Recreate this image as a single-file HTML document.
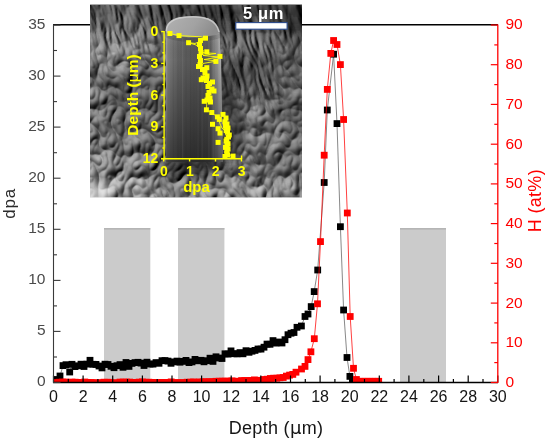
<!DOCTYPE html>
<html><head><meta charset="utf-8"><style>
html,body{margin:0;padding:0;background:#fff;}
svg{display:block;}
.t{font-family:"Liberation Sans",Arial,sans-serif;}
</style></head><body>
<svg width="550" height="441" viewBox="0 0 550 441">
<defs><clipPath id="pc"><rect x="53.5" y="25" width="444.3" height="357.5"/></clipPath></defs>
<rect width="550" height="441" fill="#fff"/>
<rect x="104" y="228" width="46.3" height="154.5" fill="#cbcbcb"/><rect x="104" y="228" width="46.3" height="1.6" fill="#b5b5b5"/><rect x="178" y="228" width="46.4" height="154.5" fill="#cbcbcb"/><rect x="178" y="228" width="46.4" height="1.6" fill="#b5b5b5"/><rect x="400" y="228" width="46.0" height="154.5" fill="#cbcbcb"/><rect x="400" y="228" width="46.0" height="1.6" fill="#b5b5b5"/>
<g clip-path="url(#pc)">
<polyline points="55.5,379.5 60.0,376.0 63.0,365.6 66.0,364.7 69.7,372.0 72.0,364.3 75.0,366.6 78.0,365.8 81.0,364.2 84.0,366.5 87.0,364.1 90.0,360.3 93.0,364.3 96.0,364.4 99.0,366.0 102.0,367.9 105.0,364.2 108.0,364.5 111.0,366.3 114.0,367.7 117.0,365.7 120.0,364.6 123.0,367.3 126.0,362.5 129.0,366.4 132.0,363.4 135.0,362.6 138.0,362.3 141.0,363.1 144.0,365.5 147.0,362.2 150.0,364.0 153.0,364.1 156.0,362.6 159.0,363.3 162.0,360.7 165.0,360.6 168.0,361.1 171.0,363.3 174.0,361.9 177.0,361.1 180.0,362.2 183.0,361.4 186.0,360.4 189.0,362.6 192.0,361.9 195.0,359.4 198.0,360.8 201.0,360.3 204.0,361.8 207.0,360.7 210.0,358.2 213.0,361.4 216.0,356.8 219.0,358.0 222.0,358.5 225.0,353.8 228.0,354.1 231.0,350.9 234.0,353.7 237.0,353.9 240.0,352.6 243.0,353.8 246.0,350.7 249.0,352.3 252.0,351.2 255.0,350.4 258.0,349.0 261.0,349.1 264.0,347.2 267.0,344.1 270.0,344.3 273.0,340.6 276.0,343.1 279.0,342.0 282.0,343.0 285.0,339.7 288.0,334.7 291.0,333.2 294.0,332.5 297.0,327.3 301.4,326.0 305.0,316.5 308.0,314.0 311.2,306.6 314.2,291.6 317.7,270.0 324.2,182.5 327.3,110.0 333.6,54.2 337.0,123.6 340.4,226.7 343.6,310.0 347.0,357.5 349.9,376.4 352.5,381.5" fill="none" stroke="#6a6a6a" stroke-width="0.8"/>
<g fill="#000"><rect x="52.1" y="376.1" width="6.8" height="6.8"/><rect x="56.6" y="372.6" width="6.8" height="6.8"/><rect x="59.6" y="362.2" width="6.8" height="6.8"/><rect x="62.6" y="361.3" width="6.8" height="6.8"/><rect x="66.3" y="368.6" width="6.8" height="6.8"/><rect x="68.6" y="360.9" width="6.8" height="6.8"/><rect x="71.6" y="363.2" width="6.8" height="6.8"/><rect x="74.6" y="362.4" width="6.8" height="6.8"/><rect x="77.6" y="360.8" width="6.8" height="6.8"/><rect x="80.6" y="363.1" width="6.8" height="6.8"/><rect x="83.6" y="360.7" width="6.8" height="6.8"/><rect x="86.6" y="356.9" width="6.8" height="6.8"/><rect x="89.6" y="360.9" width="6.8" height="6.8"/><rect x="92.6" y="361.0" width="6.8" height="6.8"/><rect x="95.6" y="362.6" width="6.8" height="6.8"/><rect x="98.6" y="364.5" width="6.8" height="6.8"/><rect x="101.6" y="360.8" width="6.8" height="6.8"/><rect x="104.6" y="361.1" width="6.8" height="6.8"/><rect x="107.6" y="362.9" width="6.8" height="6.8"/><rect x="110.6" y="364.3" width="6.8" height="6.8"/><rect x="113.6" y="362.3" width="6.8" height="6.8"/><rect x="116.6" y="361.2" width="6.8" height="6.8"/><rect x="119.6" y="363.9" width="6.8" height="6.8"/><rect x="122.6" y="359.1" width="6.8" height="6.8"/><rect x="125.6" y="363.0" width="6.8" height="6.8"/><rect x="128.6" y="360.0" width="6.8" height="6.8"/><rect x="131.6" y="359.2" width="6.8" height="6.8"/><rect x="134.6" y="358.9" width="6.8" height="6.8"/><rect x="137.6" y="359.7" width="6.8" height="6.8"/><rect x="140.6" y="362.1" width="6.8" height="6.8"/><rect x="143.6" y="358.8" width="6.8" height="6.8"/><rect x="146.6" y="360.6" width="6.8" height="6.8"/><rect x="149.6" y="360.7" width="6.8" height="6.8"/><rect x="152.6" y="359.2" width="6.8" height="6.8"/><rect x="155.6" y="359.9" width="6.8" height="6.8"/><rect x="158.6" y="357.3" width="6.8" height="6.8"/><rect x="161.6" y="357.2" width="6.8" height="6.8"/><rect x="164.6" y="357.7" width="6.8" height="6.8"/><rect x="167.6" y="359.9" width="6.8" height="6.8"/><rect x="170.6" y="358.5" width="6.8" height="6.8"/><rect x="173.6" y="357.7" width="6.8" height="6.8"/><rect x="176.6" y="358.8" width="6.8" height="6.8"/><rect x="179.6" y="358.0" width="6.8" height="6.8"/><rect x="182.6" y="357.0" width="6.8" height="6.8"/><rect x="185.6" y="359.2" width="6.8" height="6.8"/><rect x="188.6" y="358.5" width="6.8" height="6.8"/><rect x="191.6" y="356.0" width="6.8" height="6.8"/><rect x="194.6" y="357.4" width="6.8" height="6.8"/><rect x="197.6" y="356.9" width="6.8" height="6.8"/><rect x="200.6" y="358.4" width="6.8" height="6.8"/><rect x="203.6" y="357.3" width="6.8" height="6.8"/><rect x="206.6" y="354.8" width="6.8" height="6.8"/><rect x="209.6" y="358.0" width="6.8" height="6.8"/><rect x="212.6" y="353.4" width="6.8" height="6.8"/><rect x="215.6" y="354.6" width="6.8" height="6.8"/><rect x="218.6" y="355.1" width="6.8" height="6.8"/><rect x="221.6" y="350.4" width="6.8" height="6.8"/><rect x="224.6" y="350.7" width="6.8" height="6.8"/><rect x="227.6" y="347.5" width="6.8" height="6.8"/><rect x="230.6" y="350.3" width="6.8" height="6.8"/><rect x="233.6" y="350.5" width="6.8" height="6.8"/><rect x="236.6" y="349.2" width="6.8" height="6.8"/><rect x="239.6" y="350.4" width="6.8" height="6.8"/><rect x="242.6" y="347.3" width="6.8" height="6.8"/><rect x="245.6" y="348.9" width="6.8" height="6.8"/><rect x="248.6" y="347.8" width="6.8" height="6.8"/><rect x="251.6" y="347.0" width="6.8" height="6.8"/><rect x="254.6" y="345.6" width="6.8" height="6.8"/><rect x="257.6" y="345.7" width="6.8" height="6.8"/><rect x="260.6" y="343.8" width="6.8" height="6.8"/><rect x="263.6" y="340.7" width="6.8" height="6.8"/><rect x="266.6" y="340.9" width="6.8" height="6.8"/><rect x="269.6" y="337.2" width="6.8" height="6.8"/><rect x="272.6" y="339.7" width="6.8" height="6.8"/><rect x="275.6" y="338.6" width="6.8" height="6.8"/><rect x="278.6" y="339.6" width="6.8" height="6.8"/><rect x="281.6" y="336.3" width="6.8" height="6.8"/><rect x="284.6" y="331.3" width="6.8" height="6.8"/><rect x="287.6" y="329.8" width="6.8" height="6.8"/><rect x="290.6" y="329.1" width="6.8" height="6.8"/><rect x="293.6" y="323.9" width="6.8" height="6.8"/><rect x="298.0" y="322.6" width="6.8" height="6.8"/><rect x="301.6" y="313.1" width="6.8" height="6.8"/><rect x="304.6" y="310.6" width="6.8" height="6.8"/><rect x="307.8" y="303.2" width="6.8" height="6.8"/><rect x="310.8" y="288.2" width="6.8" height="6.8"/><rect x="314.3" y="266.6" width="6.8" height="6.8"/><rect x="320.8" y="179.1" width="6.8" height="6.8"/><rect x="323.9" y="106.6" width="6.8" height="6.8"/><rect x="330.2" y="50.8" width="6.8" height="6.8"/><rect x="333.6" y="120.2" width="6.8" height="6.8"/><rect x="337.0" y="223.3" width="6.8" height="6.8"/><rect x="340.2" y="306.6" width="6.8" height="6.8"/><rect x="343.6" y="354.1" width="6.8" height="6.8"/><rect x="346.5" y="373.0" width="6.8" height="6.8"/><rect x="349.1" y="378.1" width="6.8" height="6.8"/></g>
<polyline points="56.0,382.5 59.2,382.2 62.4,382.1 65.6,382.0 68.8,382.7 72.0,382.1 75.2,382.2 78.4,382.4 81.6,382.8 84.8,382.0 88.0,382.4 91.2,382.5 94.4,382.8 97.6,382.8 100.8,382.8 104.0,382.2 107.2,382.3 110.4,382.3 113.6,382.8 116.8,382.9 120.0,382.1 123.2,382.1 126.4,382.1 129.6,382.1 132.8,382.4 136.0,382.5 139.2,382.1 142.4,381.9 145.6,382.3 148.8,382.2 152.0,382.4 155.2,382.8 158.4,382.5 161.6,382.4 164.8,382.5 168.0,382.5 171.2,381.9 174.4,382.7 177.6,382.6 180.8,382.7 184.0,382.6 187.2,382.2 190.4,382.2 193.6,381.9 196.8,382.4 200.0,381.9 203.2,381.8 206.4,381.8 209.6,381.7 212.8,381.7 216.0,381.3 219.2,381.2 222.4,381.2 225.6,381.1 228.8,381.2 232.0,380.8 235.2,381.5 238.4,381.2 241.6,380.6 244.8,380.6 248.0,380.6 251.2,380.5 254.4,379.9 257.6,380.4 260.8,380.3 264.0,379.5 267.2,379.2 270.4,378.5 273.6,378.2 276.8,378.2 280.0,377.8 283.2,377.5 286.4,376.1 289.6,375.1 292.8,374.4 296.0,372.2 301.5,369.0 305.0,366.4 308.0,359.6 310.9,351.8 314.3,338.7 317.5,303.8 320.5,241.6 324.2,155.2 327.3,89.4 330.8,53.4 333.6,40.5 337.0,44.5 340.4,64.6 343.6,119.5 347.3,213.0 350.2,316.5 353.5,368.3 356.4,379.5 359.5,381.3 362.7,381.3 365.9,381.3 369.1,381.3 372.3,381.3 375.5,381.3 378.7,381.3" fill="none" stroke="#f00" stroke-width="0.75"/>
<g fill="#f00"><rect x="52.6" y="379.1" width="6.8" height="6.8"/><rect x="55.8" y="378.8" width="6.8" height="6.8"/><rect x="59.0" y="378.7" width="6.8" height="6.8"/><rect x="62.2" y="378.6" width="6.8" height="6.8"/><rect x="65.4" y="379.3" width="6.8" height="6.8"/><rect x="68.6" y="378.7" width="6.8" height="6.8"/><rect x="71.8" y="378.8" width="6.8" height="6.8"/><rect x="75.0" y="379.0" width="6.8" height="6.8"/><rect x="78.2" y="379.4" width="6.8" height="6.8"/><rect x="81.4" y="378.6" width="6.8" height="6.8"/><rect x="84.6" y="379.0" width="6.8" height="6.8"/><rect x="87.8" y="379.1" width="6.8" height="6.8"/><rect x="91.0" y="379.4" width="6.8" height="6.8"/><rect x="94.2" y="379.4" width="6.8" height="6.8"/><rect x="97.4" y="379.4" width="6.8" height="6.8"/><rect x="100.6" y="378.8" width="6.8" height="6.8"/><rect x="103.8" y="378.9" width="6.8" height="6.8"/><rect x="107.0" y="378.9" width="6.8" height="6.8"/><rect x="110.2" y="379.4" width="6.8" height="6.8"/><rect x="113.4" y="379.5" width="6.8" height="6.8"/><rect x="116.6" y="378.7" width="6.8" height="6.8"/><rect x="119.8" y="378.7" width="6.8" height="6.8"/><rect x="123.0" y="378.7" width="6.8" height="6.8"/><rect x="126.2" y="378.7" width="6.8" height="6.8"/><rect x="129.4" y="379.0" width="6.8" height="6.8"/><rect x="132.6" y="379.1" width="6.8" height="6.8"/><rect x="135.8" y="378.7" width="6.8" height="6.8"/><rect x="139.0" y="378.5" width="6.8" height="6.8"/><rect x="142.2" y="378.9" width="6.8" height="6.8"/><rect x="145.4" y="378.8" width="6.8" height="6.8"/><rect x="148.6" y="379.0" width="6.8" height="6.8"/><rect x="151.8" y="379.4" width="6.8" height="6.8"/><rect x="155.0" y="379.1" width="6.8" height="6.8"/><rect x="158.2" y="379.0" width="6.8" height="6.8"/><rect x="161.4" y="379.1" width="6.8" height="6.8"/><rect x="164.6" y="379.1" width="6.8" height="6.8"/><rect x="167.8" y="378.5" width="6.8" height="6.8"/><rect x="171.0" y="379.3" width="6.8" height="6.8"/><rect x="174.2" y="379.2" width="6.8" height="6.8"/><rect x="177.4" y="379.3" width="6.8" height="6.8"/><rect x="180.6" y="379.2" width="6.8" height="6.8"/><rect x="183.8" y="378.8" width="6.8" height="6.8"/><rect x="187.0" y="378.8" width="6.8" height="6.8"/><rect x="190.2" y="378.5" width="6.8" height="6.8"/><rect x="193.4" y="379.0" width="6.8" height="6.8"/><rect x="196.6" y="378.5" width="6.8" height="6.8"/><rect x="199.8" y="378.4" width="6.8" height="6.8"/><rect x="203.0" y="378.4" width="6.8" height="6.8"/><rect x="206.2" y="378.3" width="6.8" height="6.8"/><rect x="209.4" y="378.3" width="6.8" height="6.8"/><rect x="212.6" y="377.9" width="6.8" height="6.8"/><rect x="215.8" y="377.8" width="6.8" height="6.8"/><rect x="219.0" y="377.8" width="6.8" height="6.8"/><rect x="222.2" y="377.7" width="6.8" height="6.8"/><rect x="225.4" y="377.8" width="6.8" height="6.8"/><rect x="228.6" y="377.4" width="6.8" height="6.8"/><rect x="231.8" y="378.1" width="6.8" height="6.8"/><rect x="235.0" y="377.8" width="6.8" height="6.8"/><rect x="238.2" y="377.2" width="6.8" height="6.8"/><rect x="241.4" y="377.2" width="6.8" height="6.8"/><rect x="244.6" y="377.2" width="6.8" height="6.8"/><rect x="247.8" y="377.1" width="6.8" height="6.8"/><rect x="251.0" y="376.5" width="6.8" height="6.8"/><rect x="254.2" y="377.0" width="6.8" height="6.8"/><rect x="257.4" y="376.9" width="6.8" height="6.8"/><rect x="260.6" y="376.1" width="6.8" height="6.8"/><rect x="263.8" y="375.8" width="6.8" height="6.8"/><rect x="267.0" y="375.1" width="6.8" height="6.8"/><rect x="270.2" y="374.8" width="6.8" height="6.8"/><rect x="273.4" y="374.8" width="6.8" height="6.8"/><rect x="276.6" y="374.4" width="6.8" height="6.8"/><rect x="279.8" y="374.1" width="6.8" height="6.8"/><rect x="283.0" y="372.7" width="6.8" height="6.8"/><rect x="286.2" y="371.7" width="6.8" height="6.8"/><rect x="289.4" y="371.0" width="6.8" height="6.8"/><rect x="292.6" y="368.8" width="6.8" height="6.8"/><rect x="298.1" y="365.6" width="6.8" height="6.8"/><rect x="301.6" y="363.0" width="6.8" height="6.8"/><rect x="304.6" y="356.2" width="6.8" height="6.8"/><rect x="307.5" y="348.4" width="6.8" height="6.8"/><rect x="310.9" y="335.3" width="6.8" height="6.8"/><rect x="314.1" y="300.4" width="6.8" height="6.8"/><rect x="317.1" y="238.2" width="6.8" height="6.8"/><rect x="320.8" y="151.8" width="6.8" height="6.8"/><rect x="323.9" y="86.0" width="6.8" height="6.8"/><rect x="327.4" y="50.0" width="6.8" height="6.8"/><rect x="330.2" y="37.1" width="6.8" height="6.8"/><rect x="333.6" y="41.1" width="6.8" height="6.8"/><rect x="337.0" y="61.2" width="6.8" height="6.8"/><rect x="340.2" y="116.1" width="6.8" height="6.8"/><rect x="343.9" y="209.6" width="6.8" height="6.8"/><rect x="346.8" y="313.1" width="6.8" height="6.8"/><rect x="350.1" y="364.9" width="6.8" height="6.8"/><rect x="353.0" y="376.1" width="6.8" height="6.8"/><rect x="356.1" y="377.9" width="6.8" height="6.8"/><rect x="359.3" y="377.9" width="6.8" height="6.8"/><rect x="362.5" y="377.9" width="6.8" height="6.8"/><rect x="365.7" y="377.9" width="6.8" height="6.8"/><rect x="368.9" y="377.9" width="6.8" height="6.8"/><rect x="372.1" y="377.9" width="6.8" height="6.8"/><rect x="375.3" y="377.9" width="6.8" height="6.8"/></g>
</g>
<line x1="53" x2="498" y1="24.75" y2="24.75" stroke="#000" stroke-width="1.5"/>
<line x1="53" x2="498" y1="382.5" y2="382.5" stroke="#000" stroke-width="1.3"/>
<g stroke="#000" stroke-width="1.2"><line x1="53.5" x2="53.5" y1="382.5" y2="375.5"/><line x1="68.3" x2="68.3" y1="382.5" y2="379.0"/><line x1="83.1" x2="83.1" y1="382.5" y2="375.5"/><line x1="97.9" x2="97.9" y1="382.5" y2="379.0"/><line x1="112.7" x2="112.7" y1="382.5" y2="375.5"/><line x1="127.5" x2="127.5" y1="382.5" y2="379.0"/><line x1="142.4" x2="142.4" y1="382.5" y2="375.5"/><line x1="157.2" x2="157.2" y1="382.5" y2="379.0"/><line x1="172.0" x2="172.0" y1="382.5" y2="375.5"/><line x1="186.8" x2="186.8" y1="382.5" y2="379.0"/><line x1="201.6" x2="201.6" y1="382.5" y2="375.5"/><line x1="216.4" x2="216.4" y1="382.5" y2="379.0"/><line x1="231.2" x2="231.2" y1="382.5" y2="375.5"/><line x1="246.0" x2="246.0" y1="382.5" y2="379.0"/><line x1="260.8" x2="260.8" y1="382.5" y2="375.5"/><line x1="275.6" x2="275.6" y1="382.5" y2="379.0"/><line x1="290.5" x2="290.5" y1="382.5" y2="375.5"/><line x1="305.3" x2="305.3" y1="382.5" y2="379.0"/><line x1="320.1" x2="320.1" y1="382.5" y2="375.5"/><line x1="334.9" x2="334.9" y1="382.5" y2="379.0"/><line x1="349.7" x2="349.7" y1="382.5" y2="375.5"/><line x1="364.5" x2="364.5" y1="382.5" y2="379.0"/><line x1="379.3" x2="379.3" y1="382.5" y2="375.5"/><line x1="394.1" x2="394.1" y1="382.5" y2="379.0"/><line x1="408.9" x2="408.9" y1="382.5" y2="375.5"/><line x1="423.8" x2="423.8" y1="382.5" y2="379.0"/><line x1="438.6" x2="438.6" y1="382.5" y2="375.5"/><line x1="453.4" x2="453.4" y1="382.5" y2="379.0"/><line x1="468.2" x2="468.2" y1="382.5" y2="375.5"/><line x1="483.0" x2="483.0" y1="382.5" y2="379.0"/><line x1="497.8" x2="497.8" y1="382.5" y2="375.5"/></g>
<g stroke="#3a3a3a" stroke-width="1.1"><line x1="53.5" x2="60.5" y1="382.5" y2="382.5"/><line x1="53.5" x2="60.5" y1="331.4" y2="331.4"/><line x1="53.5" x2="60.5" y1="280.4" y2="280.4"/><line x1="53.5" x2="60.5" y1="229.3" y2="229.3"/><line x1="53.5" x2="60.5" y1="178.2" y2="178.2"/><line x1="53.5" x2="60.5" y1="127.1" y2="127.1"/><line x1="53.5" x2="60.5" y1="76.1" y2="76.1"/><line x1="53.5" x2="60.5" y1="25.0" y2="25.0"/><line x1="53.5" x2="57" y1="357.0" y2="357.0"/><line x1="53.5" x2="57" y1="305.9" y2="305.9"/><line x1="53.5" x2="57" y1="254.8" y2="254.8"/><line x1="53.5" x2="57" y1="203.8" y2="203.8"/><line x1="53.5" x2="57" y1="152.7" y2="152.7"/><line x1="53.5" x2="57" y1="101.6" y2="101.6"/><line x1="53.5" x2="57" y1="50.5" y2="50.5"/></g>
<line x1="53.5" x2="53.5" y1="24.5" y2="383" stroke="#3a3a3a" stroke-width="1.1"/>
<g stroke="#f00" stroke-width="1.2"><line x1="497.8" x2="490.8" y1="382.5" y2="382.5"/><line x1="497.8" x2="494.3" y1="362.6" y2="362.6"/><line x1="497.8" x2="490.8" y1="342.8" y2="342.8"/><line x1="497.8" x2="494.3" y1="322.9" y2="322.9"/><line x1="497.8" x2="490.8" y1="303.1" y2="303.1"/><line x1="497.8" x2="494.3" y1="283.2" y2="283.2"/><line x1="497.8" x2="490.8" y1="263.3" y2="263.3"/><line x1="497.8" x2="494.3" y1="243.5" y2="243.5"/><line x1="497.8" x2="490.8" y1="223.6" y2="223.6"/><line x1="497.8" x2="494.3" y1="203.8" y2="203.8"/><line x1="497.8" x2="490.8" y1="183.9" y2="183.9"/><line x1="497.8" x2="494.3" y1="164.0" y2="164.0"/><line x1="497.8" x2="490.8" y1="144.2" y2="144.2"/><line x1="497.8" x2="494.3" y1="124.3" y2="124.3"/><line x1="497.8" x2="490.8" y1="104.4" y2="104.4"/><line x1="497.8" x2="494.3" y1="84.6" y2="84.6"/><line x1="497.8" x2="490.8" y1="64.7" y2="64.7"/><line x1="497.8" x2="494.3" y1="44.9" y2="44.9"/><line x1="497.8" x2="490.8" y1="25.0" y2="25.0"/></g>
<line x1="497.8" x2="497.8" y1="24.4" y2="383" stroke="#f00" stroke-width="1.3"/>
<g class="t" font-size="15.5" fill="#4a4a4a" text-anchor="end"><text x="45.5" y="386.3">0</text><text x="45.5" y="335.2">5</text><text x="45.5" y="284.2">10</text><text x="45.5" y="233.1">15</text><text x="45.5" y="182.0">20</text><text x="45.5" y="130.9">25</text><text x="45.5" y="79.9">30</text><text x="45.5" y="28.8">35</text></g>
<g class="t" font-size="16" fill="#151515" text-anchor="middle"><text x="53.5" y="402">0</text><text x="83.1" y="402">2</text><text x="112.7" y="402">4</text><text x="142.4" y="402">6</text><text x="172.0" y="402">8</text><text x="201.6" y="402">10</text><text x="231.2" y="402">12</text><text x="260.8" y="402">14</text><text x="290.5" y="402">16</text><text x="320.1" y="402">18</text><text x="349.7" y="402">20</text><text x="379.3" y="402">22</text><text x="408.9" y="402">24</text><text x="438.6" y="402">26</text><text x="468.2" y="402">28</text><text x="497.8" y="402">30</text></g>
<g class="t" font-size="15.5" fill="#f00"><text x="505.5" y="386.9">0</text><text x="505.5" y="347.2">10</text><text x="505.5" y="307.5">20</text><text x="505.5" y="267.7">30</text><text x="505.5" y="228.0">40</text><text x="505.5" y="188.3">50</text><text x="505.5" y="148.6">60</text><text x="505.5" y="108.8">70</text><text x="505.5" y="69.1">80</text><text x="505.5" y="29.4">90</text></g>
<text class="t" font-size="17" fill="#2a2a2a" letter-spacing="0.7" transform="translate(15,203.4) rotate(-90)" text-anchor="middle">dpa</text>
<text class="t" font-size="18" fill="#f00" letter-spacing="0.3" transform="translate(541,200.6) rotate(-90)" text-anchor="middle">H (at%)</text>
<text class="t" font-size="18" fill="#151515" letter-spacing="0.3" x="276" y="433.5" text-anchor="middle">Depth (<tspan font-family="'DejaVu Sans','Liberation Sans',sans-serif">μ</tspan>m)</text>
<defs>
<clipPath id="ic"><rect x="90" y="4.5" width="212" height="193.0"/></clipPath>
<filter id="gb" x="-10%" y="-10%" width="120%" height="120%"><feGaussianBlur stdDeviation="6"/></filter>
<filter id="txA" x="0" y="0" width="100%" height="100%" color-interpolation-filters="sRGB"><feTurbulence type="turbulence" baseFrequency="0.1 0.03" numOctaves="2" seed="9" result="n"/><feDiffuseLighting in="n" surfaceScale="3.5" diffuseConstant="1" lighting-color="#fff"><feDistantLight azimuth="225" elevation="45"/></feDiffuseLighting><feComponentTransfer><feFuncR type="linear" slope="0.95" intercept="-0.144"/><feFuncG type="linear" slope="0.95" intercept="-0.144"/><feFuncB type="linear" slope="0.95" intercept="-0.144"/></feComponentTransfer></filter>
<filter id="txB" x="0" y="0" width="100%" height="100%" color-interpolation-filters="sRGB"><feTurbulence type="turbulence" baseFrequency="0.06 0.045" numOctaves="2" seed="5" result="n"/><feDiffuseLighting in="n" surfaceScale="3" diffuseConstant="1" lighting-color="#fff"><feDistantLight azimuth="240" elevation="45"/></feDiffuseLighting><feComponentTransfer><feFuncR type="linear" slope="1.0" intercept="-0.173"/><feFuncG type="linear" slope="1.0" intercept="-0.173"/><feFuncB type="linear" slope="1.0" intercept="-0.173"/></feComponentTransfer></filter>
<filter id="txC" x="0" y="0" width="100%" height="100%" color-interpolation-filters="sRGB"><feTurbulence type="turbulence" baseFrequency="0.06 0.045" numOctaves="2" seed="5" result="n"/><feDiffuseLighting in="n" surfaceScale="3.5" diffuseConstant="1" lighting-color="#fff"><feDistantLight azimuth="240" elevation="45"/></feDiffuseLighting><feComponentTransfer><feFuncR type="linear" slope="0.95" intercept="-0.139"/><feFuncG type="linear" slope="0.95" intercept="-0.139"/><feFuncB type="linear" slope="0.95" intercept="-0.139"/></feComponentTransfer></filter>
<filter id="mb" x="-20%" y="-20%" width="140%" height="140%"><feGaussianBlur stdDeviation="10"/></filter>
<mask id="mA" maskUnits="userSpaceOnUse" x="90" y="4.5" width="212" height="193.0"><g filter="url(#mb)"><rect x="80" y="-10" width="240" height="55" fill="#fff"/><rect x="222" y="40" width="55" height="60" fill="#fff"/></g></mask>
<mask id="mB" maskUnits="userSpaceOnUse" x="90" y="4.5" width="212" height="193.0"><g filter="url(#mb)"><rect x="245" y="95" width="80" height="75" fill="#fff"/><rect x="280" y="50" width="40" height="45" fill="#fff"/></g></mask>
<mask id="mC" maskUnits="userSpaceOnUse" x="90" y="4.5" width="212" height="193.0"><rect x="90" y="4.5" width="212" height="193.0" fill="#fff"/><g filter="url(#mb)"><rect x="80" y="-10" width="240" height="55" fill="#000"/><rect x="222" y="40" width="55" height="60" fill="#000"/><rect x="245" y="95" width="80" height="75" fill="#000"/><rect x="280" y="50" width="40" height="45" fill="#000"/></g></mask>
<linearGradient id="pbody" x1="0" x2="1" y1="0" y2="0"><stop offset="0" stop-color="#a0a0a0"/><stop offset="0.04" stop-color="#7a7a7a"/><stop offset="0.25" stop-color="#5e5e5e"/><stop offset="0.6" stop-color="#525252"/><stop offset="0.78" stop-color="#5a5a5a"/><stop offset="0.87" stop-color="#858585"/><stop offset="0.94" stop-color="#a4a4a4"/><stop offset="1" stop-color="#b4b4b4"/></linearGradient>
<linearGradient id="pshade" x1="0" x2="0" y1="0" y2="1"><stop offset="0" stop-color="#fff" stop-opacity="0.25"/><stop offset="0.15" stop-color="#fff" stop-opacity="0.06"/><stop offset="0.3" stop-color="#000" stop-opacity="0"/><stop offset="1" stop-color="#000" stop-opacity="0.5"/></linearGradient>
<radialGradient id="pcap" cx="0.35" cy="0.35" r="0.75"><stop offset="0" stop-color="#b8b8b8"/><stop offset="0.7" stop-color="#a4a4a4"/><stop offset="1" stop-color="#a4a4a4" stop-opacity="0"/></radialGradient>
</defs>
<g clip-path="url(#ic)" style="isolation:isolate">
<rect x="90" y="4.5" width="212" height="193.0" fill="#6e6e6e"/>
<g filter="url(#gb)">
<rect x="82.0" y="-3.5" width="26.3" height="24.7" fill="rgb(75,75,75)"/>
<rect x="107.7" y="-3.5" width="18.3" height="24.7" fill="rgb(85,85,85)"/>
<rect x="125.3" y="-3.5" width="18.3" height="24.7" fill="rgb(90,90,90)"/>
<rect x="143.0" y="-3.5" width="18.3" height="24.7" fill="rgb(80,80,80)"/>
<rect x="160.7" y="-3.5" width="18.3" height="24.7" fill="rgb(65,65,65)"/>
<rect x="178.3" y="-3.5" width="18.3" height="24.7" fill="rgb(60,60,60)"/>
<rect x="196.0" y="-3.5" width="18.3" height="24.7" fill="rgb(50,50,50)"/>
<rect x="213.7" y="-3.5" width="18.3" height="24.7" fill="rgb(48,48,48)"/>
<rect x="231.3" y="-3.5" width="18.3" height="24.7" fill="rgb(60,60,60)"/>
<rect x="249.0" y="-3.5" width="18.3" height="24.7" fill="rgb(60,60,60)"/>
<rect x="266.7" y="-3.5" width="18.3" height="24.7" fill="rgb(55,55,55)"/>
<rect x="284.3" y="-3.5" width="26.3" height="24.7" fill="rgb(42,42,42)"/>
<rect x="82.0" y="20.6" width="26.3" height="16.7" fill="rgb(100,100,100)"/>
<rect x="107.7" y="20.6" width="18.3" height="16.7" fill="rgb(105,105,105)"/>
<rect x="125.3" y="20.6" width="18.3" height="16.7" fill="rgb(110,110,110)"/>
<rect x="143.0" y="20.6" width="18.3" height="16.7" fill="rgb(95,95,95)"/>
<rect x="160.7" y="20.6" width="18.3" height="16.7" fill="rgb(85,85,85)"/>
<rect x="178.3" y="20.6" width="18.3" height="16.7" fill="rgb(80,80,80)"/>
<rect x="196.0" y="20.6" width="18.3" height="16.7" fill="rgb(65,65,65)"/>
<rect x="213.7" y="20.6" width="18.3" height="16.7" fill="rgb(65,65,65)"/>
<rect x="231.3" y="20.6" width="18.3" height="16.7" fill="rgb(72,72,72)"/>
<rect x="249.0" y="20.6" width="18.3" height="16.7" fill="rgb(78,78,78)"/>
<rect x="266.7" y="20.6" width="18.3" height="16.7" fill="rgb(72,72,72)"/>
<rect x="284.3" y="20.6" width="26.3" height="16.7" fill="rgb(50,50,50)"/>
<rect x="82.0" y="36.7" width="26.3" height="16.7" fill="rgb(130,130,130)"/>
<rect x="107.7" y="36.7" width="18.3" height="16.7" fill="rgb(135,135,135)"/>
<rect x="125.3" y="36.7" width="18.3" height="16.7" fill="rgb(125,125,125)"/>
<rect x="143.0" y="36.7" width="18.3" height="16.7" fill="rgb(108,108,108)"/>
<rect x="160.7" y="36.7" width="18.3" height="16.7" fill="rgb(100,100,100)"/>
<rect x="178.3" y="36.7" width="18.3" height="16.7" fill="rgb(100,100,100)"/>
<rect x="196.0" y="36.7" width="18.3" height="16.7" fill="rgb(100,100,100)"/>
<rect x="213.7" y="36.7" width="18.3" height="16.7" fill="rgb(100,100,100)"/>
<rect x="231.3" y="36.7" width="18.3" height="16.7" fill="rgb(105,105,105)"/>
<rect x="249.0" y="36.7" width="18.3" height="16.7" fill="rgb(110,110,110)"/>
<rect x="266.7" y="36.7" width="18.3" height="16.7" fill="rgb(105,105,105)"/>
<rect x="284.3" y="36.7" width="26.3" height="16.7" fill="rgb(85,85,85)"/>
<rect x="82.0" y="52.8" width="26.3" height="16.7" fill="rgb(118,118,118)"/>
<rect x="107.7" y="52.8" width="18.3" height="16.7" fill="rgb(120,120,120)"/>
<rect x="125.3" y="52.8" width="18.3" height="16.7" fill="rgb(108,108,108)"/>
<rect x="143.0" y="52.8" width="18.3" height="16.7" fill="rgb(98,98,98)"/>
<rect x="160.7" y="52.8" width="18.3" height="16.7" fill="rgb(100,100,100)"/>
<rect x="178.3" y="52.8" width="18.3" height="16.7" fill="rgb(100,100,100)"/>
<rect x="196.0" y="52.8" width="18.3" height="16.7" fill="rgb(100,100,100)"/>
<rect x="213.7" y="52.8" width="18.3" height="16.7" fill="rgb(80,80,80)"/>
<rect x="231.3" y="52.8" width="18.3" height="16.7" fill="rgb(70,70,70)"/>
<rect x="249.0" y="52.8" width="18.3" height="16.7" fill="rgb(80,80,80)"/>
<rect x="266.7" y="52.8" width="18.3" height="16.7" fill="rgb(85,85,85)"/>
<rect x="284.3" y="52.8" width="26.3" height="16.7" fill="rgb(80,80,80)"/>
<rect x="82.0" y="68.8" width="26.3" height="16.7" fill="rgb(100,100,100)"/>
<rect x="107.7" y="68.8" width="18.3" height="16.7" fill="rgb(88,88,88)"/>
<rect x="125.3" y="68.8" width="18.3" height="16.7" fill="rgb(95,95,95)"/>
<rect x="143.0" y="68.8" width="18.3" height="16.7" fill="rgb(85,85,85)"/>
<rect x="160.7" y="68.8" width="18.3" height="16.7" fill="rgb(95,95,95)"/>
<rect x="178.3" y="68.8" width="18.3" height="16.7" fill="rgb(95,95,95)"/>
<rect x="196.0" y="68.8" width="18.3" height="16.7" fill="rgb(95,95,95)"/>
<rect x="213.7" y="68.8" width="18.3" height="16.7" fill="rgb(75,75,75)"/>
<rect x="231.3" y="68.8" width="18.3" height="16.7" fill="rgb(65,65,65)"/>
<rect x="249.0" y="68.8" width="18.3" height="16.7" fill="rgb(75,75,75)"/>
<rect x="266.7" y="68.8" width="18.3" height="16.7" fill="rgb(85,85,85)"/>
<rect x="284.3" y="68.8" width="26.3" height="16.7" fill="rgb(90,90,90)"/>
<rect x="82.0" y="84.9" width="26.3" height="16.7" fill="rgb(105,105,105)"/>
<rect x="107.7" y="84.9" width="18.3" height="16.7" fill="rgb(85,85,85)"/>
<rect x="125.3" y="84.9" width="18.3" height="16.7" fill="rgb(95,95,95)"/>
<rect x="143.0" y="84.9" width="18.3" height="16.7" fill="rgb(82,82,82)"/>
<rect x="160.7" y="84.9" width="18.3" height="16.7" fill="rgb(90,90,90)"/>
<rect x="178.3" y="84.9" width="18.3" height="16.7" fill="rgb(90,90,90)"/>
<rect x="196.0" y="84.9" width="18.3" height="16.7" fill="rgb(90,90,90)"/>
<rect x="213.7" y="84.9" width="18.3" height="16.7" fill="rgb(95,95,95)"/>
<rect x="231.3" y="84.9" width="18.3" height="16.7" fill="rgb(90,90,90)"/>
<rect x="249.0" y="84.9" width="18.3" height="16.7" fill="rgb(85,85,85)"/>
<rect x="266.7" y="84.9" width="18.3" height="16.7" fill="rgb(95,95,95)"/>
<rect x="284.3" y="84.9" width="26.3" height="16.7" fill="rgb(100,100,100)"/>
<rect x="82.0" y="101.0" width="26.3" height="16.7" fill="rgb(105,105,105)"/>
<rect x="107.7" y="101.0" width="18.3" height="16.7" fill="rgb(85,85,85)"/>
<rect x="125.3" y="101.0" width="18.3" height="16.7" fill="rgb(90,90,90)"/>
<rect x="143.0" y="101.0" width="18.3" height="16.7" fill="rgb(85,85,85)"/>
<rect x="160.7" y="101.0" width="18.3" height="16.7" fill="rgb(90,90,90)"/>
<rect x="178.3" y="101.0" width="18.3" height="16.7" fill="rgb(90,90,90)"/>
<rect x="196.0" y="101.0" width="18.3" height="16.7" fill="rgb(90,90,90)"/>
<rect x="213.7" y="101.0" width="18.3" height="16.7" fill="rgb(95,95,95)"/>
<rect x="231.3" y="101.0" width="18.3" height="16.7" fill="rgb(90,90,90)"/>
<rect x="249.0" y="101.0" width="18.3" height="16.7" fill="rgb(110,110,110)"/>
<rect x="266.7" y="101.0" width="18.3" height="16.7" fill="rgb(95,95,95)"/>
<rect x="284.3" y="101.0" width="26.3" height="16.7" fill="rgb(75,75,75)"/>
<rect x="82.0" y="117.1" width="26.3" height="16.7" fill="rgb(110,110,110)"/>
<rect x="107.7" y="117.1" width="18.3" height="16.7" fill="rgb(100,100,100)"/>
<rect x="125.3" y="117.1" width="18.3" height="16.7" fill="rgb(100,100,100)"/>
<rect x="143.0" y="117.1" width="18.3" height="16.7" fill="rgb(95,95,95)"/>
<rect x="160.7" y="117.1" width="18.3" height="16.7" fill="rgb(95,95,95)"/>
<rect x="178.3" y="117.1" width="18.3" height="16.7" fill="rgb(95,95,95)"/>
<rect x="196.0" y="117.1" width="18.3" height="16.7" fill="rgb(95,95,95)"/>
<rect x="213.7" y="117.1" width="18.3" height="16.7" fill="rgb(105,105,105)"/>
<rect x="231.3" y="117.1" width="18.3" height="16.7" fill="rgb(95,95,95)"/>
<rect x="249.0" y="117.1" width="18.3" height="16.7" fill="rgb(115,115,115)"/>
<rect x="266.7" y="117.1" width="18.3" height="16.7" fill="rgb(110,110,110)"/>
<rect x="284.3" y="117.1" width="26.3" height="16.7" fill="rgb(90,90,90)"/>
<rect x="82.0" y="133.2" width="26.3" height="16.7" fill="rgb(105,105,105)"/>
<rect x="107.7" y="133.2" width="18.3" height="16.7" fill="rgb(100,100,100)"/>
<rect x="125.3" y="133.2" width="18.3" height="16.7" fill="rgb(110,110,110)"/>
<rect x="143.0" y="133.2" width="18.3" height="16.7" fill="rgb(105,105,105)"/>
<rect x="160.7" y="133.2" width="18.3" height="16.7" fill="rgb(100,100,100)"/>
<rect x="178.3" y="133.2" width="18.3" height="16.7" fill="rgb(100,100,100)"/>
<rect x="196.0" y="133.2" width="18.3" height="16.7" fill="rgb(100,100,100)"/>
<rect x="213.7" y="133.2" width="18.3" height="16.7" fill="rgb(100,100,100)"/>
<rect x="231.3" y="133.2" width="18.3" height="16.7" fill="rgb(105,105,105)"/>
<rect x="249.0" y="133.2" width="18.3" height="16.7" fill="rgb(110,110,110)"/>
<rect x="266.7" y="133.2" width="18.3" height="16.7" fill="rgb(105,105,105)"/>
<rect x="284.3" y="133.2" width="26.3" height="16.7" fill="rgb(100,100,100)"/>
<rect x="82.0" y="149.2" width="26.3" height="16.7" fill="rgb(120,120,120)"/>
<rect x="107.7" y="149.2" width="18.3" height="16.7" fill="rgb(110,110,110)"/>
<rect x="125.3" y="149.2" width="18.3" height="16.7" fill="rgb(110,110,110)"/>
<rect x="143.0" y="149.2" width="18.3" height="16.7" fill="rgb(110,110,110)"/>
<rect x="160.7" y="149.2" width="18.3" height="16.7" fill="rgb(80,80,80)"/>
<rect x="178.3" y="149.2" width="18.3" height="16.7" fill="rgb(70,70,70)"/>
<rect x="196.0" y="149.2" width="18.3" height="16.7" fill="rgb(70,70,70)"/>
<rect x="213.7" y="149.2" width="18.3" height="16.7" fill="rgb(90,90,90)"/>
<rect x="231.3" y="149.2" width="18.3" height="16.7" fill="rgb(110,110,110)"/>
<rect x="249.0" y="149.2" width="18.3" height="16.7" fill="rgb(95,95,95)"/>
<rect x="266.7" y="149.2" width="18.3" height="16.7" fill="rgb(100,100,100)"/>
<rect x="284.3" y="149.2" width="26.3" height="16.7" fill="rgb(95,95,95)"/>
<rect x="82.0" y="165.3" width="26.3" height="16.7" fill="rgb(130,130,130)"/>
<rect x="107.7" y="165.3" width="18.3" height="16.7" fill="rgb(125,125,125)"/>
<rect x="125.3" y="165.3" width="18.3" height="16.7" fill="rgb(120,120,120)"/>
<rect x="143.0" y="165.3" width="18.3" height="16.7" fill="rgb(105,105,105)"/>
<rect x="160.7" y="165.3" width="18.3" height="16.7" fill="rgb(85,85,85)"/>
<rect x="178.3" y="165.3" width="18.3" height="16.7" fill="rgb(80,80,80)"/>
<rect x="196.0" y="165.3" width="18.3" height="16.7" fill="rgb(85,85,85)"/>
<rect x="213.7" y="165.3" width="18.3" height="16.7" fill="rgb(105,105,105)"/>
<rect x="231.3" y="165.3" width="18.3" height="16.7" fill="rgb(105,105,105)"/>
<rect x="249.0" y="165.3" width="18.3" height="16.7" fill="rgb(100,100,100)"/>
<rect x="266.7" y="165.3" width="18.3" height="16.7" fill="rgb(95,95,95)"/>
<rect x="284.3" y="165.3" width="26.3" height="16.7" fill="rgb(95,95,95)"/>
<rect x="82.0" y="181.4" width="26.3" height="24.7" fill="rgb(170,170,170)"/>
<rect x="107.7" y="181.4" width="18.3" height="24.7" fill="rgb(140,140,140)"/>
<rect x="125.3" y="181.4" width="18.3" height="24.7" fill="rgb(140,140,140)"/>
<rect x="143.0" y="181.4" width="18.3" height="24.7" fill="rgb(130,130,130)"/>
<rect x="160.7" y="181.4" width="18.3" height="24.7" fill="rgb(120,120,120)"/>
<rect x="178.3" y="181.4" width="18.3" height="24.7" fill="rgb(120,120,120)"/>
<rect x="196.0" y="181.4" width="18.3" height="24.7" fill="rgb(125,125,125)"/>
<rect x="213.7" y="181.4" width="18.3" height="24.7" fill="rgb(125,125,125)"/>
<rect x="231.3" y="181.4" width="18.3" height="24.7" fill="rgb(130,130,130)"/>
<rect x="249.0" y="181.4" width="18.3" height="24.7" fill="rgb(125,125,125)"/>
<rect x="266.7" y="181.4" width="18.3" height="24.7" fill="rgb(130,130,130)"/>
<rect x="284.3" y="181.4" width="26.3" height="24.7" fill="rgb(125,125,125)"/>
</g>
<filter id="b3" x="-30%" y="-60%" width="160%" height="220%"><feGaussianBlur stdDeviation="3"/></filter>
<ellipse cx="195" cy="164" rx="33" ry="7" fill="#2a2a2a" opacity="0.8" filter="url(#b3)"/>
<ellipse cx="98" cy="194" rx="15" ry="10" fill="#d0d0d0" opacity="0.85" filter="url(#b3)"/>
<path d="M221,60 C228,75 236,95 242,115 C246,135 244,150 240,162 L222,162 Z" fill="#1e1e1e" opacity="0.5" filter="url(#b3)"/>
<g mask="url(#mA)" style="mix-blend-mode:overlay"><g transform="skewX(12)"><rect x="45" y="4.5" width="262" height="193.0" filter="url(#txA)"/></g></g>
<g mask="url(#mB)" style="mix-blend-mode:overlay"><rect x="90" y="4.5" width="212" height="193.0" filter="url(#txB)"/></g>
<g mask="url(#mC)" style="mix-blend-mode:overlay"><rect x="90" y="4.5" width="212" height="193.0" filter="url(#txC)"/></g>
<path d="M165.8,162 L165.8,32 C166,24 171,19.5 180,17.5 C188,16.2 200,15.8 208,18.5 C214,21 218,26 219.5,33 L221,60 L223,162 Z" fill="url(#pbody)"/>
<path d="M165.8,162 L165.8,32 C166,24 171,19.5 180,17.5 C188,16.2 200,15.8 208,18.5 C214,21 218,26 219.5,33 L221,60 L223,162 Z" fill="url(#pshade)"/>
<linearGradient id="capg" x1="0" x2="1" y1="0" y2="0.3"><stop offset="0" stop-color="#b2b2b2"/><stop offset="0.6" stop-color="#a2a2a2"/><stop offset="1" stop-color="#8c8c8c"/></linearGradient>
<path d="M165.8,32 C166,24 171,19.5 180,17.5 C188,16.2 200,15.8 208,18.5 C214,21 218,26 219.5,33 C212,36.5 200,37.5 192,37.3 C182,37 172,35.5 165.8,32 Z" fill="url(#capg)"/>
<path d="M166.3,31 C166.5,24 171,19.8 180,17.9 C188,16.6 200,16.2 208,18.9 C214,21.4 217.8,26 219.2,32" fill="none" stroke="#d4d4d4" stroke-width="1.6" opacity="0.75"/>
<path d="M166,32.5 C172,36 182,37.5 192,37.8 C200,38 212,37 219.6,33.6 L219.8,38 C212,41 200,42 192,42 C182,41.8 172,40.5 166,37.5 Z" fill="#000" opacity="0.12"/>
<rect x="168.5" y="38" width="0.9" height="122" fill="#fff" opacity="0.05"/>
<rect x="172.7" y="38" width="1.3" height="122" fill="#000" opacity="0.05"/>
<rect x="177.2" y="38" width="1.3" height="122" fill="#000" opacity="0.05"/>
<rect x="182.0" y="38" width="1.3" height="122" fill="#fff" opacity="0.06"/>
<rect x="185.1" y="38" width="1.8" height="122" fill="#000" opacity="0.03"/>
<rect x="190.0" y="38" width="1.3" height="122" fill="#000" opacity="0.06"/>
<rect x="192.6" y="38" width="1.9" height="122" fill="#000" opacity="0.02"/>
<rect x="197.6" y="38" width="1.0" height="122" fill="#fff" opacity="0.05"/>
<rect x="201.3" y="38" width="1.9" height="122" fill="#fff" opacity="0.04"/>
<rect x="206.6" y="38" width="0.8" height="122" fill="#000" opacity="0.04"/>
<rect x="208.5" y="38" width="0.9" height="122" fill="#fff" opacity="0.07"/>
<rect x="212.3" y="38" width="1.8" height="122" fill="#fff" opacity="0.04"/>
<rect x="216.5" y="38" width="1.3" height="122" fill="#000" opacity="0.04"/>
</g>
<g stroke="#ffff00" stroke-width="1.4" fill="none">
<line x1="164.1" y1="31" x2="164.1" y2="159.2"/>
<line x1="161" y1="158.8" x2="242.2" y2="158.8"/>
<line x1="161.2" y1="31.6" x2="164.1" y2="31.6"/>
<line x1="161.2" y1="63.4" x2="164.1" y2="63.4"/>
<line x1="161.2" y1="95.1" x2="164.1" y2="95.1"/>
<line x1="161.2" y1="126.8" x2="164.1" y2="126.8"/>
<line x1="161.2" y1="158.6" x2="164.1" y2="158.6"/>
<line x1="162.4" y1="42.2" x2="164.1" y2="42.2"/>
<line x1="162.4" y1="52.8" x2="164.1" y2="52.8"/>
<line x1="162.4" y1="73.9" x2="164.1" y2="73.9"/>
<line x1="162.4" y1="84.5" x2="164.1" y2="84.5"/>
<line x1="162.4" y1="105.7" x2="164.1" y2="105.7"/>
<line x1="162.4" y1="116.3" x2="164.1" y2="116.3"/>
<line x1="162.4" y1="137.4" x2="164.1" y2="137.4"/>
<line x1="162.4" y1="148.0" x2="164.1" y2="148.0"/>
<line x1="163.7" y1="158.8" x2="163.7" y2="161.5"/>
<line x1="189.6" y1="158.8" x2="189.6" y2="161.5"/>
<line x1="215.5" y1="158.8" x2="215.5" y2="161.5"/>
<line x1="241.4" y1="158.8" x2="241.4" y2="161.5"/>
<line x1="241.6" y1="155.5" x2="241.6" y2="158.8"/>
</g>
<g font-family="Liberation Sans, Arial, sans-serif" font-weight="bold" font-size="14" fill="#ffff00">
<text x="158.3" y="36.2" text-anchor="end">0</text>
<text x="158.3" y="68.0" text-anchor="end">3</text>
<text x="158.3" y="99.7" text-anchor="end">6</text>
<text x="158.3" y="131.4" text-anchor="end">9</text>
<text x="158.3" y="163.2" text-anchor="end">12</text>
<text x="163.9" y="176" text-anchor="middle">0</text>
<text x="189.8" y="176" text-anchor="middle">1</text>
<text x="215.7" y="176" text-anchor="middle">2</text>
<text x="241.6" y="176" text-anchor="middle">3</text>
<text x="196.5" y="191.5" text-anchor="middle" font-size="15">dpa</text>
<text transform="translate(138.2,95) rotate(-90)" text-anchor="middle" font-size="15.5">Depth (<tspan font-weight="normal">μ</tspan>m)</text>
</g>
<polyline points="169.9,33.5 179.0,35.6 201.0,36.8 205.5,38.2 201.0,41.0 195.0,43.5 188.6,42.7 196.0,45.0 200.0,48.0 201.0,52.5 216.0,53.5 203.0,55.5 219.0,57.0 204.0,59.5 217.0,61.0 203.0,63.5 201.0,68.0 204.0,74.0 203.0,79.0 209.0,84.0 208.0,88.0 212.0,91.0 209.0,96.0 207.0,101.0 206.4,109.8 211.8,112.5 217.0,117.0 219.0,120.0 220.0,124.0 222.0,128.0 225.0,131.0 226.0,135.0 227.0,139.0 228.0,143.0 226.0,147.0 227.0,151.0 227.0,154.0 233.0,156.0" fill="none" stroke="#ffff00" stroke-width="0.9"/>
<g fill="#ffff00"><rect x="167.4" y="31.0" width="5" height="5"/><rect x="176.5" y="33.1" width="5" height="5"/><rect x="186.1" y="40.2" width="5" height="5"/><rect x="203.0" y="35.7" width="5" height="5"/><rect x="198.0" y="38.0" width="5" height="5"/><rect x="197.0" y="42.0" width="5" height="5"/><rect x="198.0" y="46.0" width="5" height="5"/><rect x="198.5" y="50.0" width="5" height="5"/><rect x="197.0" y="54.0" width="5" height="5"/><rect x="198.0" y="58.0" width="5" height="5"/><rect x="197.5" y="62.0" width="5" height="5"/><rect x="196.0" y="64.0" width="5" height="5"/><rect x="204.3" y="49.3" width="5" height="5"/><rect x="217.5" y="53.9" width="5" height="5"/><rect x="213.4" y="58.9" width="5" height="5"/><rect x="204.3" y="65.2" width="5" height="5"/><rect x="200.0" y="67.0" width="5" height="5"/><rect x="202.5" y="70.0" width="5" height="5"/><rect x="204.5" y="73.5" width="5" height="5"/><rect x="200.5" y="75.5" width="5" height="5"/><rect x="198.8" y="77.2" width="5" height="5"/><rect x="204.0" y="78.0" width="5" height="5"/><rect x="207.0" y="81.0" width="5" height="5"/><rect x="210.0" y="79.5" width="5" height="5"/><rect x="205.5" y="84.0" width="5" height="5"/><rect x="209.5" y="86.5" width="5" height="5"/><rect x="211.5" y="88.5" width="5" height="5"/><rect x="206.5" y="90.0" width="5" height="5"/><rect x="205.5" y="93.0" width="5" height="5"/><rect x="207.5" y="95.5" width="5" height="5"/><rect x="204.5" y="97.5" width="5" height="5"/><rect x="201.7" y="98.8" width="5" height="5"/><rect x="208.0" y="99.5" width="5" height="5"/><rect x="203.9" y="107.3" width="5" height="5"/><rect x="209.3" y="110.0" width="5" height="5"/><rect x="220.5" y="111.9" width="5" height="5"/><rect x="214.9" y="114.4" width="5" height="5"/><rect x="216.8" y="116.9" width="5" height="5"/><rect x="210.0" y="121.8" width="5" height="5"/><rect x="222.4" y="119.3" width="5" height="5"/><rect x="223.0" y="123.7" width="5" height="5"/><rect x="215.6" y="126.2" width="5" height="5"/><rect x="217.5" y="130.6" width="5" height="5"/><rect x="223.7" y="128.1" width="5" height="5"/><rect x="226.8" y="132.5" width="5" height="5"/><rect x="224.3" y="136.8" width="5" height="5"/><rect x="215.6" y="139.9" width="5" height="5"/><rect x="225.5" y="141.2" width="5" height="5"/><rect x="223.0" y="144.9" width="5" height="5"/><rect x="224.3" y="148.0" width="5" height="5"/><rect x="224.3" y="151.1" width="5" height="5"/><rect x="230.5" y="153.6" width="5" height="5"/><rect x="223.5" y="115.5" width="5" height="5"/><rect x="224.5" y="121.5" width="5" height="5"/><rect x="225.5" y="125.5" width="5" height="5"/><rect x="225.0" y="129.5" width="5" height="5"/><rect x="226.0" y="134.5" width="5" height="5"/><rect x="223.5" y="138.5" width="5" height="5"/><rect x="224.5" y="142.5" width="5" height="5"/><rect x="225.5" y="146.5" width="5" height="5"/><rect x="225.0" y="152.5" width="5" height="5"/><rect x="222.5" y="154.0" width="5" height="5"/></g>
<rect x="235.8" y="22.6" width="51.3" height="6.6" fill="#fff" stroke="#2a4a8c" stroke-width="1.1"/>
<text x="263.5" y="19.2" text-anchor="middle" font-family="Liberation Sans, Arial, sans-serif" font-weight="bold" font-size="16.5" letter-spacing="0.6" fill="#fff">5 μm</text>
</svg>
</body></html>
